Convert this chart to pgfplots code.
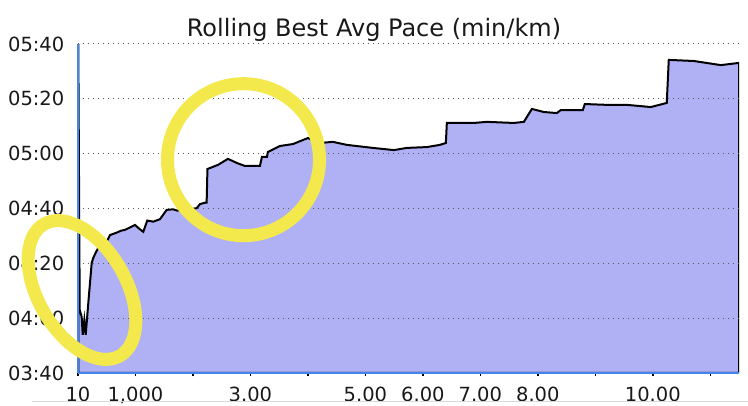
\documentclass[border=0pt]{standalone}
\usepackage{pgfplots}
\pgfplotsset{compat=1.18}
\usepackage{fontspec}
\setmainfont{DejaVu Sans}
\definecolor{fillc}{RGB}{176,176,245}
\definecolor{axblue}{RGB}{66,133,240}
\definecolor{ring}{RGB}{243,233,77}
\definecolor{txt}{RGB}{25,25,25}
\begin{document}
\begin{tikzpicture}[x=1pt,y=1pt]
\begin{axis}[
  at={(78pt,33pt)}, anchor=south west,
  width=661pt, height=329pt, scale only axis,
  xmin=0, xmax=11.5, ymin=220, ymax=340,
  axis lines*=left,
  axis line style={axblue, line width=1.8pt},
  axis on top,
  xtick={0,1,2,3,4,5,6,7,8,9,10,11},
  xticklabels={10,{1,000},,3.00,,5.00,6.00,7.00,8.00,,10.00,},
  ytick={220,240,260,280,300,320,340},
  yticklabels={03:40,04:00,04:20,04:40,05:00,05:20,05:40},
  ymajorgrids,
  major grid style={draw=black!65, line width=1pt, dash pattern=on 1pt off 4pt},
  ytick style={draw=none},
  xtick style={draw=black, line width=1.5pt},
  tick align=outside, major tick length=3.5pt,
  xticklabel style={font=\fontsize{19.5pt}{20pt}\selectfont, text=txt, anchor=north, inner sep=0pt, yshift=-10pt},
  yticklabel style={font=\fontsize{19.5pt}{20pt}\selectfont, text=txt, anchor=east, inner sep=0pt, xshift=-10pt},
]
\addplot[draw=black, line width=2pt, fill=fillc] coordinates {
(0.005,340) (0.03,243.0) (0.064,240.5) (0.082,233.9) (0.110,239.3) (0.134,233.9)
(0.179,245.5) (0.238,260.1) (0.266,262.0) (0.313,264.1) (0.353,265.6) (0.412,264.9)
(0.499,267.9) (0.557,270.3) (0.62,270.8) (0.673,271.2) (0.75,271.9) (0.817,272.2) (0.875,272.8)
(0.934,273.4) (0.991,274.0) (1.078,272.4) (1.136,271.5) (1.205,275.6) (1.310,275.2)
(1.426,276.1) (1.543,279.5) (1.657,279.7) (1.727,279.2) (1.831,279.7) (1.948,279.8)
(2.064,280.1) (2.122,281.6) (2.209,282.1) (2.238,282.1) (2.252,294.4) (2.435,295.9)
(2.609,298.1) (2.765,296.6) (2.904,295.5) (3.165,295.5) (3.2,298.8) (3.287,298.8)
(3.304,300.6) (3.513,302.8) (3.739,303.5) (4.0,305.7) (4.209,303.9) (4.435,304.3)
(4.678,303.2) (5.130,302.1) (5.496,301.3) (5.722,302.1) (6.070,302.4) (6.296,303.2)
(6.40,303.9) (6.417,311.2) (6.887,311.2) (7.113,311.6) (7.583,311.2) (7.757,311.6)
(7.896,316.3) (8.104,315.2) (8.330,314.8) (8.4,315.9) (8.783,315.9) (8.817,318.1)
(9.2,317.8) (9.548,317.8) (9.965,317.0) (10.243,318.5) (10.278,334.2) (10.713,333.8)
(11.183,332.3) (11.5,333.1)
} \closedcycle;
\end{axis}
\node[anchor=base, text=txt, font=\fontsize{24pt}{25pt}\selectfont] at (374,369) {Rolling Best Avg Pace (min/km)};
\draw[black!15, line width=1pt] (32,4.3) -- (748,4.3);
\draw[ring, line width=13pt] (243.5,246.3) circle (76);
\begin{scope}[shift={(82,116)}, rotate=30]
\draw[ring, line width=13pt] (0,0) ellipse [x radius=44, y radius=76];
\end{scope}
\pgfresetboundingbox
\path[use as bounding box] (0,0) rectangle (748,406);
\end{tikzpicture}
\end{document}
